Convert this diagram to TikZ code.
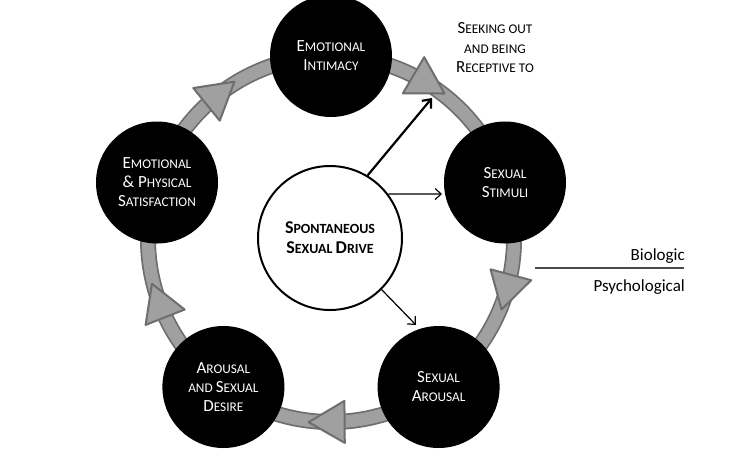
\documentclass[tikz,border=0pt]{standalone}
\usepackage{fontspec}
\setmainfont{Carlito}
\usetikzlibrary{arrows.meta}
\definecolor{ringdark}{HTML}{6E6E6E}
\definecolor{ringfill}{HTML}{A0A0A0}
\definecolor{rulegray}{HTML}{4A4A4A}
\newcommand\scA[2]{{\fontsize{17}{19}\selectfont #1}{\fontsize{13.3}{19}\selectfont #2}}
\newcommand\scB[2]{{\fontsize{18}{20}\selectfont\bfseries #1}{\fontsize{14}{20}\selectfont\bfseries #2}}
\begin{document}
\begin{tikzpicture}[x=1pt,y=1pt,
  blk/.style={circle,fill=black,minimum size=122pt,inner sep=0pt,text=white,align=center,font=\fontsize{17}{19}\selectfont},
  ctr/.style={circle,draw=black,fill=white,line width=2pt,minimum size=144pt,inner sep=0pt,align=center,font=\fontsize{18}{20}\selectfont},
  tri/.style={draw=ringdark,fill=ringfill,line width=2pt,line join=round},
  thickarr/.style={line width=2.2pt,-{Straight Barb[length=7pt,width=12pt]}},
  thinarr/.style={line width=1.2pt,-{Straight Barb[length=6pt,width=11pt]}},
  lbl/.style={inner sep=0pt,font=\fontsize{17}{20}\selectfont}
]
\useasboundingbox (0,-448) rectangle (750,0);
\fill[white] (0,-448) rectangle (750,0);
\coordinate (C) at (331,-239);
% ring band
\draw[line width=16pt,color=ringdark] (C) circle (183);
\draw[line width=12.5pt,color=ringfill] (C) circle (183);
% arrowheads on the ring
\foreach \a in {59.5,-15,-89.5,-158.5,129}{
  \begin{scope}[shift={(C)},rotate=\a]
    \draw[tri] (183,-24) -- (162,12) -- (204,12) -- cycle;
  \end{scope}
}
% black circles
\node[blk] (ei) at (331,-56) {\scA{E}{MOTIONAL}\\\scA{I}{NTIMACY}};
\node[blk] (ss) at (505,-182.5) {\scA{S}{EXUAL}\\\scA{S}{TIMULI}};
\node[blk] (sa) at (438.6,-387) {\scA{S}{EXUAL}\\\scA{A}{ROUSAL}};
\node[blk] (ad) at (223.4,-387) {\scA{A}{ROUSAL}\\\scA{}{AND }\scA{S}{EXUAL}\\\scA{D}{ESIRE}};
\node[blk] (ep) at (157,-182.5) {\scA{E}{MOTIONAL}\\\scA{\&}{} \scA{P}{HYSICAL}\\\scA{S}{ATISFACTION}};
% centre
\node[ctr] (sd) at (330,-238) {\scB{S}{PONTANEOUS}\\\scB{S}{EXUAL }\scB{D}{RIVE}};
% side text
\node[align=center,inner sep=0pt,font=\fontsize{17}{19.5}\selectfont] (seek) at (495,-48) {\scA{S}{EEKING OUT}\\\scA{}{AND BEING}\\\scA{R}{ECEPTIVE TO}};
% arrows from centre
\coordinate (t1) at (432,-98);
\coordinate (t2) at (442,-194);
\coordinate (t3) at (416,-325);
\draw[thickarr] (sd.59) -- (t1);
\draw[thinarr] (sd.37) -- (t2);
\draw[thinarr] (sd.-45) -- (t3);
% biologic / psychological
\node[lbl,anchor=base east] (bio) at (685,-260) {Biologic};
\node[lbl,anchor=base east] (psy) at (685,-291) {Psychological};
\coordinate (la) at (535,-268);
\coordinate (lb) at (684,-268);
\draw[rulegray,line width=1.6pt] (la) -- (lb);
\end{tikzpicture}
\end{document}
